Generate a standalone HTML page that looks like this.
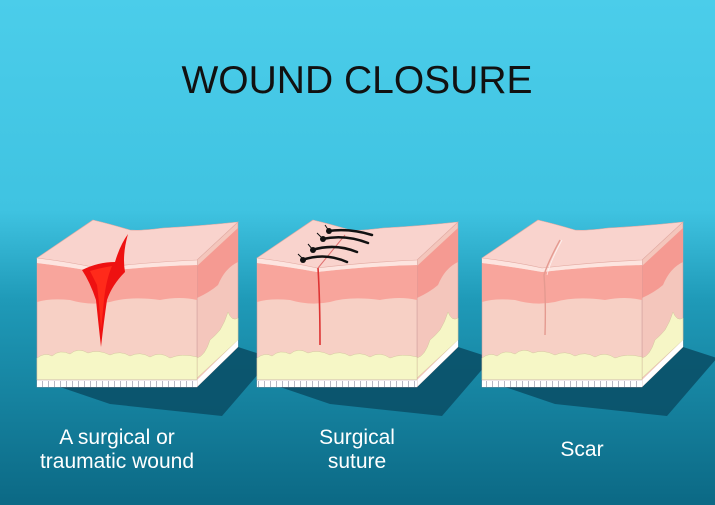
<!DOCTYPE html>
<html><head><style>
html,body{margin:0;padding:0;background:#0c6a86;}
body{width:715px;height:500px;overflow:hidden;}
</style></head><body>
<svg width="715" height="500" viewBox="0 0 715 500" xmlns="http://www.w3.org/2000/svg">
<defs>
<linearGradient id="bg" x1="0" y1="0" x2="0" y2="1">
<stop offset="0" stop-color="#4bcdea"/>
<stop offset="0.42" stop-color="#3fc3e1"/>
<stop offset="0.6" stop-color="#1f9ab8"/>
<stop offset="1" stop-color="#0c6a86"/>
</linearGradient>
<g id="blk">
<path d="M60,387 L197,387 L238,347 L272,358 L222,416 L110,404 Z" fill="#0a5068" opacity="0.9"/>
<!-- right face -->
<path d="M197,260 L238,222 L238,347 L197,387 Z" fill="#f4c6bc" stroke="#c99" stroke-width="0.5"/>
<path d="M197,266 L238,228 L238,262 Q225,268 218,285 Q210,292 197,298 Z" fill="#f59a92"/>
<path d="M197,378 L197,358 Q205,356 210,340 Q215,336 220,330 Q225,322 228,312 Q232,322 238,318 L238,340 Z" fill="#f6f6c6" stroke="#d4c9a0" stroke-width="0.5"/>
<path d="M197,380 L238,340 L238,347 L197,387 Z" fill="#fff"/>
<!-- front face -->
<rect x="37" y="258" width="160" height="129" fill="#f7d0c5" stroke="#c99" stroke-width="0.5"/>
<path d="M37,263 Q70,267 97,272 Q150,266 197,265 L197,300 Q180,296 160,300 Q130,296 110,302 Q90,306 70,300 Q50,298 37,302 Z" fill="#f8a59c"/>
<path d="M37,258 Q70,262 97,268 Q150,262 197,260 L197,265 Q150,266 97,272 Q70,267 37,263 Z" fill="#fde4df"/>
<path d="M37,358 Q45,352 52,356 Q60,349 70,354 Q78,347 88,353 Q98,349 110,355 Q120,350 130,356 Q140,351 150,357 Q160,351 170,358 Q182,353 197,357 L197,380 L37,380 Z" fill="#f6f7c6" stroke="#d4c9a0" stroke-width="0.5"/>
<rect x="37" y="380" width="160" height="7" fill="#fff"/>
<path d="M37,380 H197" stroke="#b9a" stroke-width="0.6"/>
<!-- top face -->
<path d="M37,258 Q70,262 97,268 Q150,262 197,260 L238,222 Q200,226 163,228 Q140,231 130,230 Q110,224 93,220 Z" fill="#f9d3cd" stroke="#e2aaa2" stroke-width="0.6"/>
</g>
<pattern id="tk" width="6" height="7" patternUnits="userSpaceOnUse"><rect x="0" y="0" width="0.7" height="7" fill="#99a"/></pattern>
</defs>
<rect width="715" height="500" fill="url(#bg)"/>
<text x="357" y="93" text-anchor="middle" font-family="Liberation Sans, sans-serif" font-size="39" fill="#111">WOUND CLOSURE</text>

<use href="#blk"/>
<use href="#blk" transform="translate(220,0)"/>
<use href="#blk" transform="translate(445,0)"/>
<rect x="37" y="381" width="160" height="6" fill="url(#tk)"/>
<rect x="257" y="381" width="160" height="6" fill="url(#tk)"/>
<rect x="482" y="381" width="160" height="6" fill="url(#tk)"/>

<!-- wound -->
<path d="M82,270 Q98,262 115,262 Q120,245 128,234 Q122,255 125,272 Q112,285 107,300 Q104,320 101,347 Q98,320 96,300 Q90,282 82,270 Z" fill="#ee1111"/>
<path d="M90,271 Q100,268 112,266 Q106,280 104,300 L101,330 Q99,300 97,285 Z" fill="#ff2a1a"/>
<!-- suture -->
<path d="M318,268 Q320,300 320,345" stroke="#d33" stroke-width="1.6" fill="none"/>
<path d="M345,235 L318,268" stroke="#e07070" stroke-width="1" fill="none"/>
<g stroke="#111" stroke-width="2.5" fill="none" stroke-linecap="round">
<path d="M302,260 Q325,252 347,262"/>
<path d="M312,250 Q335,243 357,252"/>
<path d="M322,239 Q345,234 368,243"/>
<path d="M328,231 Q350,228 372,235"/>
</g>
<g fill="#111"><circle cx="303" cy="260" r="3"/><circle cx="313" cy="250" r="3"/><circle cx="323" cy="239" r="3"/><circle cx="329" cy="231" r="3"/></g>
<g stroke="#111" stroke-width="1" fill="none">
<path d="M298,254 L304,260 M308,244 L313,250 M317,233 L323,239 M325,225 L329,231"/>
</g>
<!-- scar -->
<path d="M560,240 Q548,262 544,275 Q546,300 545,335" stroke="#e49a90" stroke-width="1.4" fill="none"/>
<path d="M562,240 Q550,262 547,275" stroke="#fff" stroke-width="0.8" fill="none" opacity="0.7"/>

<g font-family="Liberation Sans, sans-serif" font-size="21" fill="#fff" text-anchor="middle">
<text x="117" y="444">A surgical or</text>
<text x="117" y="468">traumatic wound</text>
<text x="357" y="444">Surgical</text>
<text x="357" y="468">suture</text>
<text x="582" y="456">Scar</text>
</g>
</svg>
</body></html>
